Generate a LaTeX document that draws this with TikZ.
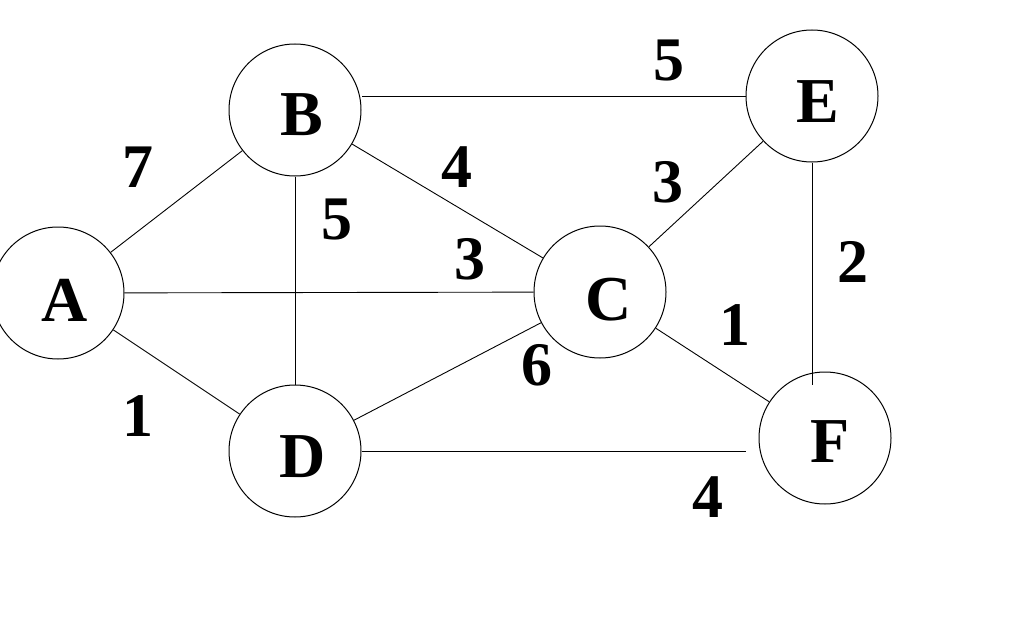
\documentclass[tikz,border=0pt]{standalone}
\usepackage{fontspec}
\setmainfont{Liberation Serif}
\begin{document}
\begin{tikzpicture}[x=1pt,y=-1pt,
  vert/.style={circle,draw,line width=1pt,minimum size=132pt,inner sep=0pt},
  lbl/.style={font=\fontsize{64}{64}\selectfont\bfseries,inner sep=0pt},
  wt/.style={font=\fontsize{62}{62}\selectfont\bfseries,inner sep=0pt},
  edge/.style={line width=0.9pt}]
\useasboundingbox (0,0) rectangle (1012,626);
\node[vert] (A) at (58,293) {};
\node[vert] (B) at (295,110) {};
\node[vert] (E) at (812,96) {};
\node[vert] (C) at (600,292) {};
\node[vert] (D) at (295,451) {};
\node[vert] (F) at (825,438) {};
\node[lbl] (lA) at (65,300) {A};
\node[lbl] (lB) at (302,115) {B};
\node[lbl] (lE) at (818,102) {E};
\node[lbl] (lC) at (609,300) {C};
\node[lbl] (lD) at (303,457) {D};
\node[lbl] (lF) at (830,442) {F};
\draw[edge] (A) -- (B);
\draw[edge] (A) -- (D);
\draw[edge] (A) -- (C);
\draw[edge] (B) -- (D);
\draw[edge] (B) -- (C);
\draw[edge] (C) -- (E);
\draw[edge] (C) -- (D);
\draw[edge] (C) -- (F);
\draw[edge] (E.west) -- (E.west -| B.east);
\draw[edge] (D.east) -- ([xshift=-13pt]D.east -| F.west);
\draw[edge] (E.south) -- ([yshift=-13pt]E.south |- F.north);
\node[wt] (w1) at (138,167) {7};
\node[wt] (w2) at (669,61) {5};
\node[wt] (w3) at (457,167) {4};
\node[wt] (w4) at (337,220) {5};
\node[wt] (w5) at (470,259) {3};
\node[wt] (w6) at (668,182) {3};
\node[wt] (w7) at (853,262) {2};
\node[wt] (w8) at (735,325) {1};
\node[wt] (w9) at (537,365) {6};
\node[wt] (w10) at (138,416) {1};
\node[wt] (w11) at (708,497) {4};
\end{tikzpicture}
\end{document}
